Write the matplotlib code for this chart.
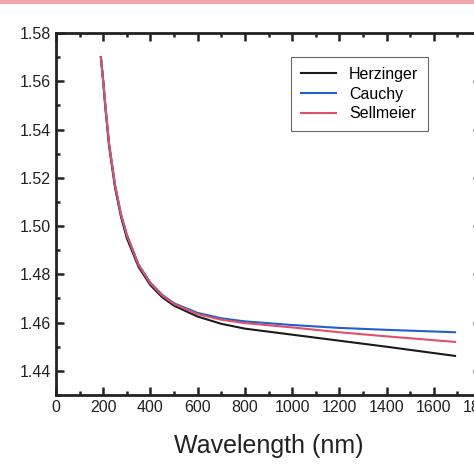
import matplotlib
matplotlib.use("Agg")
import matplotlib.pyplot as plt
from matplotlib.ticker import MultipleLocator
from matplotlib.lines import Line2D

wavelength = [190, 200, 210, 225, 250, 275, 300, 350, 400, 450, 500, 600, 700, 800, 1000, 1200, 1400, 1690]
herzinger = [1.570, 1.560, 1.548, 1.533, 1.516, 1.504, 1.495, 1.483, 1.4755, 1.4705, 1.467, 1.4625, 1.4595, 1.4575, 1.4550, 1.4525, 1.4500, 1.4462]
cauchy    = [1.570, 1.560, 1.549, 1.534, 1.517, 1.505, 1.4965, 1.484, 1.4765, 1.4715, 1.468, 1.4640, 1.4618, 1.4605, 1.4590, 1.4578, 1.4570, 1.4560]
sellmeier = [1.570, 1.560, 1.549, 1.534, 1.517, 1.505, 1.4962, 1.4838, 1.4762, 1.4712, 1.4677, 1.4635, 1.4612, 1.4598, 1.4580, 1.4560, 1.4543, 1.4520]

plt.rcParams['font.family'] = ['Liberation Sans', 'DejaVu Sans']
fig = plt.figure(figsize=(4.74, 4.74), dpi=100)
ax = fig.add_axes([56/474, 79/474, 425/474, 362/474])

ax.plot(wavelength, herzinger, color='#1a1a1a', lw=1.5, label='Herzinger')
ax.plot(wavelength, cauchy, color='#1f5fd0', lw=1.5, label='Cauchy')
ax.plot(wavelength, sellmeier, color='#e0506a', lw=1.5, label='Sellmeier')

ax.set_xlim(0, 1800)
ax.set_ylim(1.43, 1.58)
ax.xaxis.set_major_locator(MultipleLocator(200))
ax.xaxis.set_minor_locator(MultipleLocator(100))
ax.yaxis.set_major_locator(MultipleLocator(0.02))
ax.yaxis.set_minor_locator(MultipleLocator(0.01))
ax.yaxis.set_major_formatter(matplotlib.ticker.FormatStrFormatter('%.2f'))
ax.tick_params(which='both', direction='in', top=True, right=True, labelsize=11.5, width=1.8, colors='#222222')
ax.tick_params(which='major', length=6)
ax.tick_params(which='minor', length=3)
for s in ax.spines.values():
    s.set_linewidth(2)
    s.set_color('#222222')
ax.set_xlabel('Wavelength (nm)', fontsize=18, color='#222222', labelpad=14)

leg = ax.legend(loc='upper left', bbox_to_anchor=(0.535, 0.955), fontsize=11.5, frameon=True,
                fancybox=False, edgecolor='#444444', handlelength=2.2, borderpad=0.6, labelspacing=0.3)
leg.get_frame().set_linewidth(0.8)

fig.add_artist(Line2D([0, 1], [1 - 2/474, 1 - 2/474], color='#f2a6ae', lw=3, transform=fig.transFigure))
fig.savefig('out.png', dpi=100)
